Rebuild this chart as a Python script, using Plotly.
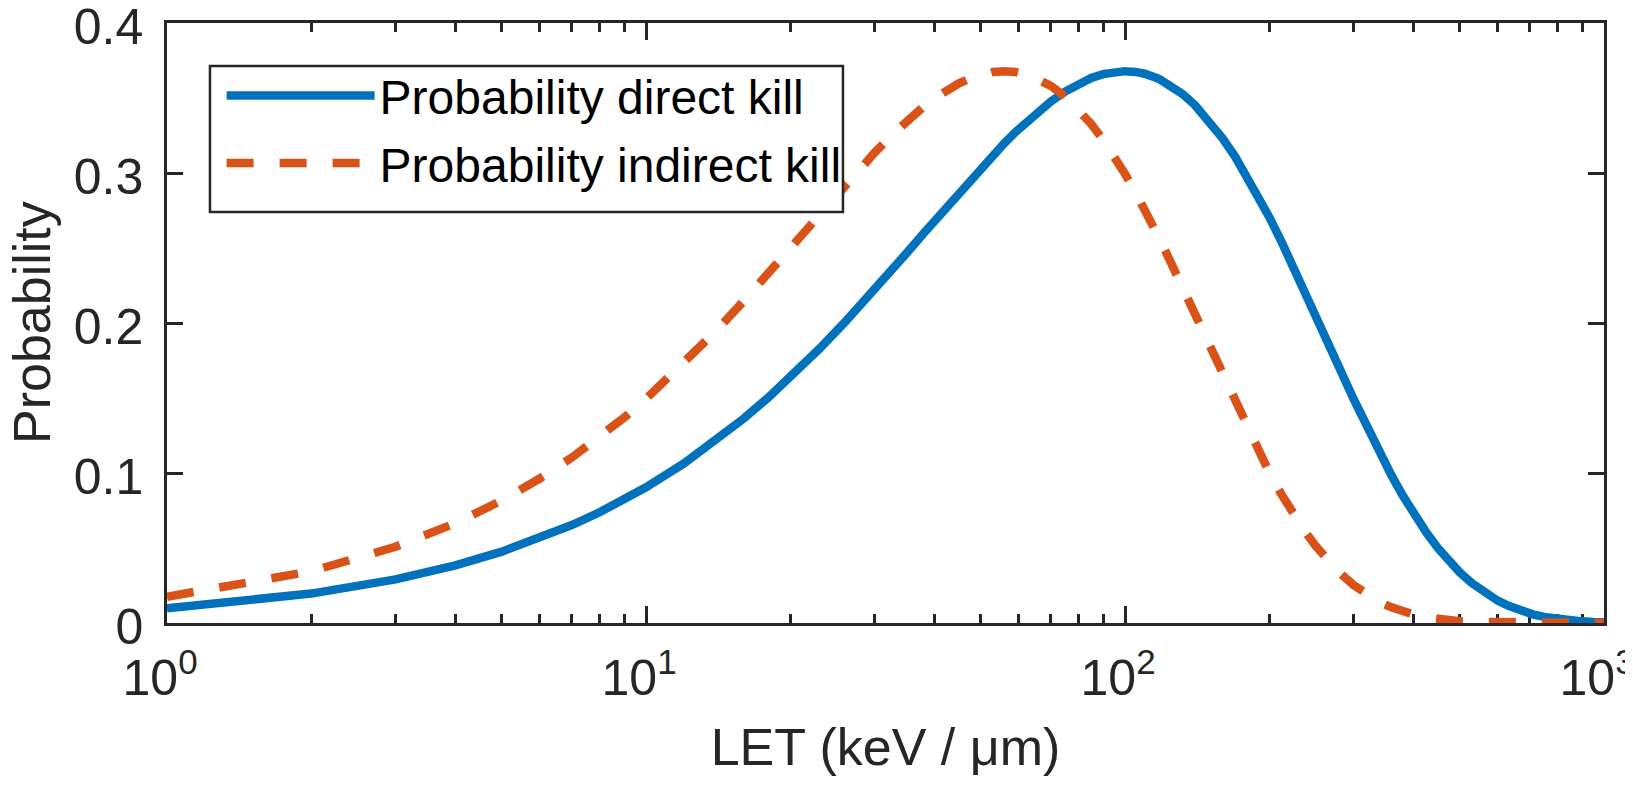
import plotly.graph_objects as go

# LET sample points (keV / um)
let_values = [1, 2, 3, 4, 5, 6, 7, 8, 9, 10,
              12, 14, 16, 18, 20, 23, 26, 28, 30, 33, 35, 38, 40, 43, 45, 48, 50,
              53, 56, 59, 63, 66, 70, 75, 80, 85, 90, 95, 100, 105, 110, 118, 125,
              132, 140, 150, 160, 170, 180, 190, 200, 212, 225, 237, 250, 265, 280,
              300, 320, 340, 360, 380, 400, 425, 450, 475, 500, 530, 560, 600, 630,
              670, 710, 750, 800, 850, 900, 950, 1000]

# probability curves
p_direct = [0.0099, 0.0196, 0.0291, 0.0384, 0.0476, 0.0565, 0.0653, 0.0738, 0.0823, 0.0905,
            0.1064, 0.1217, 0.1363, 0.1503, 0.1637, 0.1827, 0.2005, 0.2116, 0.2222,
            0.2372, 0.2466, 0.2599, 0.2681, 0.2797, 0.2869, 0.2970, 0.3033,
            0.3120, 0.3199, 0.3271, 0.3355, 0.3411, 0.3476, 0.3543, 0.3595,
            0.3633, 0.3659, 0.3674, 0.3679, 0.3674, 0.3662, 0.3626, 0.3581,
            0.3526, 0.3452, 0.3347, 0.3230, 0.3106, 0.2975, 0.2842, 0.2707,
            0.2545, 0.2371, 0.2215, 0.2052, 0.1872, 0.1703, 0.1494, 0.1304,
            0.1135, 0.0984, 0.0850, 0.0733, 0.0606, 0.0500, 0.0411, 0.0337,
            0.0265, 0.0207, 0.0149, 0.0116, 0.0082, 0.0058, 0.0041, 0.0027,
            0.0017, 0.0011, 0.0007, 0.0005]

p_indirect = [0.0175, 0.0345, 0.0508, 0.0665, 0.0817, 0.0963, 0.1103, 0.1238, 0.1369, 0.1494,
              0.1730, 0.1947, 0.2147, 0.2331, 0.2499, 0.2724, 0.2919, 0.3033, 0.3135,
              0.3269, 0.3345, 0.3443, 0.3497, 0.3563, 0.3598, 0.3637, 0.3656,
              0.3673, 0.3679, 0.3674, 0.3652, 0.3627, 0.3581, 0.3510, 0.3424,
              0.3327, 0.3222, 0.3110, 0.2994, 0.2875, 0.2755, 0.2562, 0.2395,
              0.2232, 0.2052, 0.1839, 0.1641, 0.1458, 0.1292, 0.1140, 0.1004,
              0.0859, 0.0723, 0.0615, 0.0514, 0.0417, 0.0337, 0.0253, 0.0189,
              0.0140, 0.0104, 0.0077, 0.0057, 0.0038, 0.0026, 0.0018, 0.0012,
              0.0007, 0.0005, 0.0002, 0.0002, 0.0001, 0.0000, 0.0000, 0.0000,
              0.0000, 0.0000, 0.0000, 0.0000]

x_tickvals = [1, 10, 100, 1000]
# trailing nbsp keeps the "10^n" block centred on its tick like the original
x_ticktext = ["10<sup>0</sup>\u00a0", "10<sup>1</sup>\u00a0",
              "10<sup>2</sup>\u00a0", "10<sup>3</sup>\u00a0"]
x_minor = [m * d for d in (1, 10, 100) for m in range(2, 10)]
y_tickvals = [0, 0.1, 0.2, 0.3, 0.4]

AX = "#262626"
FONT = "Liberation Sans, Arial, sans-serif"

fig = go.Figure()
fig.add_trace(go.Scatter(x=let_values, y=p_direct, mode="lines",
                         name="Probability direct kill", legendgroup="direct",
                         line=dict(color="#0072BD", width=8.5)))
fig.add_trace(go.Scatter(x=let_values, y=p_indirect, mode="lines",
                         name="Probability indirect kill", legendgroup="indirect",
                         line=dict(color="#D95319", width=8.5, dash="27px,26px")))

axis_common = dict(showline=True, linecolor=AX, linewidth=2.5, mirror="ticks",
                   ticks="inside", tickcolor=AX, tickwidth=2.5, showgrid=False,
                   zeroline=False, layer="below traces", ticklabeloverflow="allow",
                   tickfont=dict(family=FONT, size=50, color=AX))

fig.update_xaxes(type="log", range=[0, 3], tickvals=x_tickvals, ticktext=x_ticktext,
                 ticklen=17, ticklabelstandoff=9,
                 minor=dict(tickmode="array", tickvals=x_minor, ticks="inside",
                            ticklen=9, tickwidth=2.5, tickcolor=AX),
                 title=dict(text="LET (keV / μm)", standoff=24,
                            font=dict(family=FONT, size=52, color=AX)),
                 **axis_common)
fig.update_yaxes(range=[0, 0.4], tickvals=y_tickvals, ticklen=16, ticklabelstandoff=11,
                 ticklabelshift=3, **axis_common)

# y title as an annotation so it can sit against the left edge like the original
fig.add_annotation(text="Probability", textangle=-90, showarrow=False,
                   xref="paper", yref="paper", x=-159 / 1437, y=0.5,
                   xanchor="left", yanchor="middle", xshift=-7,
                   font=dict(family=FONT, size=52, color=AX))

# legend frame (MATLAB style box with padding around the entries)
fig.add_shape(type="rect", xref="paper", yref="paper",
              x0=0.0299, x1=0.4704, y0=0.685, y1=0.9283,
              line=dict(color=AX, width=2.5), fillcolor="white", layer="above")

fig.update_layout(
    width=1633, height=788,
    margin=dict(l=159, r=37, t=15, b=173, autoexpand=False),
    plot_bgcolor="white", paper_bgcolor="white",
    font=dict(family=FONT, color=AX),
    legend=dict(x=0.038, y=0.942, xanchor="left", yanchor="top",
                bgcolor="rgba(0,0,0,0)", borderwidth=0,
                font=dict(family=FONT, size=48, color="black"),
                itemwidth=148, tracegroupgap=2),
)

fig.write_html("out.html")
